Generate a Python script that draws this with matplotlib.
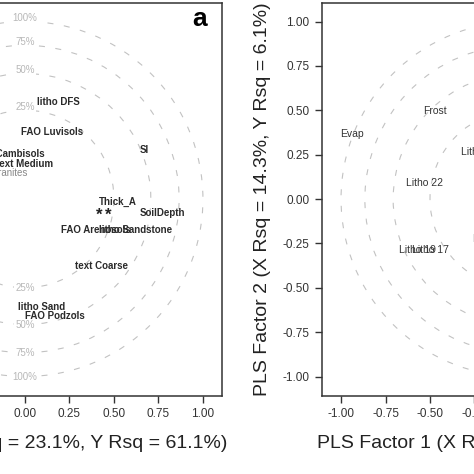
import numpy as np
import matplotlib.pyplot as plt
from matplotlib.patches import Circle

plt.rcParams['font.family'] = ['Liberation Sans', 'DejaVu Sans']

# % explained variance circles (radius = sqrt of fraction)
circ_pct = [25, 50, 75, 100]

# panel a: soil / lithology loadings
a_names = ['litho DFS', 'FAO Luvisols', 'FAO Cambisols', 'text Medium', 'litho Granites',
           'SI', 'Thick_A', 'SoilDepth', 'FAO Arenosols', 'litho Sandstone',
           'text Coarse', 'litho Sand', 'FAO Podzols']
a_x = [0.19, 0.15, -0.09, -0.005, -0.15, 0.67, 0.52, 0.775, 0.40, 0.62, 0.43, 0.095, 0.17]
a_y = [0.545, 0.376, 0.253, 0.20, 0.146, 0.275, -0.017, -0.08, -0.175, -0.175, -0.38, -0.61, -0.66]
a_grey = ['litho Granites']

# response variables (asterisks)
resp_x = [0.415, 0.465]
resp_y = [-0.09, -0.09]

# panel b: climate / lithology loadings
b_names = ['Evap', 'Frost', 'Litho 22', 'Litho 16', 'Litho 5', 'Litho 19', 'Litho 17']
b_x = [-0.94, -0.47, -0.53, -0.22, -0.17, -0.57, -0.50]
b_y = [0.365, 0.495, 0.09, 0.265, -0.225, -0.29, -0.29]

ticks = [-1.0, -0.75, -0.5, -0.25, 0.0, 0.25, 0.5, 0.75, 1.0]
lim = 1.107

fig = plt.figure(figsize=(4.74, 4.74), dpi=100)
ax1 = fig.add_axes([-0.3629, 0.1656, 0.8312, 0.8291])
ax2 = fig.add_axes([0.6793, 0.1656, 0.8312, 0.8291])

def base(ax, letter):
    for p in circ_pct:
        r = np.sqrt(p / 100)
        ax.add_patch(Circle((0, 0), r, fill=False, ec='#c2c2c2', lw=0.8,
                            ls=(0, (5.4, 9.5)), zorder=1))
        for s in (1, -1):
            ax.text(0, s * r + (0.02 if s > 0 else 0), '%d%%' % p, fontsize=7,
                    color='#b8b8b8', ha='center', va='center', zorder=2,
                    bbox=dict(fc='white', ec='none', pad=0.6))
    ax.set_xlim(-lim, lim)
    ax.set_ylim(-lim, lim)
    ax.set_xticks(ticks)
    ax.set_yticks(ticks)
    ax.set_xticklabels(['%.2f' % t for t in ticks])
    ax.set_yticklabels(['%.2f' % t for t in ticks])
    ax.tick_params(direction='out', length=5, width=1, colors='#333333',
                   labelsize=8.5, pad=4)
    for sp in ax.spines.values():
        sp.set_color('#333333')
        sp.set_linewidth(1.1)
    ax.text(0.944, 0.958, letter, transform=ax.transAxes, fontsize=19,
            fontweight='bold', ha='center', va='center')

base(ax1, 'a')
base(ax2, 'b')

for n, x, y in zip(a_names, a_x, a_y):
    if n in a_grey:
        ax1.text(x, y, n, fontsize=7, color='#888888', ha='center', va='center', zorder=3)
    else:
        ax1.text(x, y, n, fontsize=7, fontweight='bold', color='#2a2a2a',
                 ha='center', va='center', zorder=3)
for x, y in zip(resp_x, resp_y):
    ax1.text(x, y, '*', fontsize=12, fontweight='bold', color='#222222',
             ha='center', va='center', zorder=3)

for n, x, y in zip(b_names, b_x, b_y):
    ax2.text(x, y, n, fontsize=7.5, color='#333333', ha='center', va='center', zorder=3)

ax1.set_xlabel('PLS Factor 1 (X Rsq = 23.1%, Y Rsq = 61.1%)', fontsize=14, color='#222222')
ax2.set_xlabel('PLS Factor 1 (X Rsq = 20.4%, Y Rsq = 28.6%)', fontsize=14, color='#222222')
ax2.set_ylabel('PLS Factor 2 (X Rsq = 14.3%, Y Rsq = 6.1%)', fontsize=14, color='#222222')
ax1.xaxis.set_label_coords(0.5, -0.10)
ax2.xaxis.set_label_coords(0.5, -0.10)
ax2.yaxis.set_label_coords(-0.13, 0.5)

fig.savefig('out.png', dpi=100)
